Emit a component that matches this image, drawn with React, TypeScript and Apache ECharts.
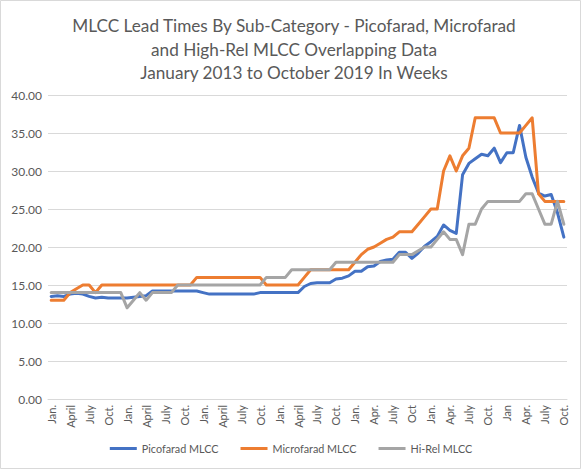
import React, { useEffect, useRef } from "react";
import * as echarts from "echarts";

const years = [2013, 2014, 2015, 2016, 2017, 2018, 2019];
const monthNames = ["Jan", "Feb", "Mar", "Apr", "May", "Jun", "Jul", "Aug", "Sep", "Oct", "Nov", "Dec"];

const tickLabels = [
  "Jan.", "April", "July", "Oct.",
  "Jan.", "April", "July", "Oct.",
  "Jan.", "April", "July", "Oct.",
  "Jan.", "April", "July", "Oct.",
  "Jan.", "Apr.", "July", "Oct",
  "Jan.", "Apr.", "July", "Oct.",
  "Jan", "Apr.", "July", "Oct.",
];

const picofarad = [
  13.5, 13.6, 13.5, 13.8, 13.9, 13.8, 13.5, 13.3, 13.4, 13.3, 13.3, 13.3,
  13.3, 13.4, 13.5, 13.6, 14.2, 14.2, 14.2, 14.2, 14.2, 14.2, 14.2, 14.2,
  14.0, 13.8, 13.8, 13.8, 13.8, 13.8, 13.8, 13.8, 13.8, 14.0, 14.0, 14.0,
  14.0, 14.0, 14.0, 14.0, 14.8, 15.2, 15.3, 15.3, 15.3, 15.8, 15.9, 16.2,
  16.8, 16.8, 17.4, 17.5, 18.1, 18.3, 18.4, 19.3, 19.3, 18.5, 19.2, 20.1,
  20.7, 21.4, 22.9, 22.2, 21.8, 29.5, 31.0, 31.6, 32.2, 32.0, 33.0, 31.1,
  32.4, 32.4, 36.0, 31.8, 29.2, 27.1, 26.7, 26.9, 24.5, 21.3,
];

const microfarad = [
  13, 13, 13, 14, 14.5, 15, 15, 14, 15, 15, 15, 15,
  15, 15, 15, 15, 15, 15, 15, 15, 15, 15, 15, 16,
  16, 16, 16, 16, 16, 16, 16, 16, 16, 16, 15, 15,
  15, 15, 15, 15, 16, 17, 17, 17, 17, 17, 17, 17,
  18, 19, 19.7, 20, 20.5, 21, 21.3, 22, 22, 22, 23, 24,
  25, 25, 30, 32, 30, 32, 33, 37, 37, 37, 37, 35,
  35, 35, 35, 36, 37, 27, 26, 26, 26, 26,
];

const hiRel = [
  14, 14, 14, 14, 14, 14, 14, 14, 14, 14, 14, 14,
  12, 13, 14, 13, 14, 14, 14, 14, 15, 15, 15, 15,
  15, 15, 15, 15, 15, 15, 15, 15, 15, 15, 16, 16,
  16, 16, 17, 17, 17, 17, 17, 17, 17, 18, 18, 18,
  18, 18, 18, 18, 18, 18, 18, 19, 19, 19, 19.5, 20,
  20, 21, 22, 21, 21, 19, 23, 23, 25, 26, 26, 26,
  26, 26, 26, 27, 27, 25, 23, 23, 26, 23,
];

const categories: string[] = [];
for (const y of years) {
  for (const m of monthNames) {
    if (categories.length < 82) categories.push(m + " " + y);
  }
}

const seriesNames = ["Picofarad MLCC", "Microfarad MLCC", "Hi-Rel MLCC"];
const colors = ["#4472C4", "#ED7D31", "#A5A5A5"];

const FONT = "Lato, 'Liberation Sans', sans-serif";

export default function App() {
  const ref = useRef<HTMLDivElement>(null);
  useEffect(() => {
    if (!ref.current) return;
    const chart = echarts.init(ref.current, null, { renderer: "svg" });
    const data = [picofarad, microfarad, hiRel];
    chart.setOption({
      animation: false,
      backgroundColor: "#ffffff",
      textStyle: { fontFamily: FONT },
      title: {
        text: "MLCC Lead Times By Sub-Category - Picofarad, Microfarad\nand High-Rel MLCC Overlapping Data\nJanuary 2013 to October 2019 In Weeks",
        left: 289,
        top: 9,
        textAlign: "center",
        textStyle: {
          fontFamily: FONT,
          fontSize: 17.2,
          fontWeight: "normal",
          color: "#595959",
          lineHeight: 23.5,
        },
      },
      graphic: [
        {
          type: "rect",
          shape: { x: 0.5, y: 0.5, width: 580, height: 468 },
          style: { fill: "none", stroke: "#D9D9D9", lineWidth: 1 },
          silent: true,
        },
      ],
      legend: {
        bottom: 11,
        left: "center",
        itemWidth: 27,
        itemHeight: 3,
        itemGap: 22,
        icon: "rect",
        textStyle: { fontFamily: FONT, fontSize: 10.8, color: "#595959" },
        data: seriesNames,
      },
      grid: { left: 48, right: 15, top: 95, bottom: 71, containLabel: false },
      xAxis: {
        type: "category",
        data: categories,
        boundaryGap: true,
        axisLine: { show: true, lineStyle: { color: "#D9D9D9", width: 1 } },
        axisTick: { show: false },
        axisLabel: {
          interval: 2,
          rotate: 90,
          margin: 6,
          fontFamily: FONT,
          fontSize: 11,
          color: "#595959",
          formatter: (_v: string, idx: number) => tickLabels[Math.round(idx / 3)] ?? "",
        },
      },
      yAxis: {
        type: "value",
        min: 0,
        max: 40,
        interval: 5,
        axisLine: { show: false },
        axisTick: { show: false },
        splitLine: { lineStyle: { color: "#D9D9D9", width: 1 } },
        axisLabel: {
          margin: 6,
          fontFamily: FONT,
          fontSize: 12,
          color: "#595959",
          formatter: (v: number) => v.toFixed(2),
        },
      },
      series: seriesNames.map((name, i) => ({
        name,
        type: "line",
        data: data[i],
        symbol: "none",
        smooth: false,
        color: colors[i],
        lineStyle: { width: 3, color: colors[i], join: "round", cap: "round" },
      })),
    });
    return () => chart.dispose();
  }, []);
  return (
    <div
      ref={ref}
      style={{ position: "fixed", left: 0, top: 0, width: 582, height: 470 }}
    />
  );
}
